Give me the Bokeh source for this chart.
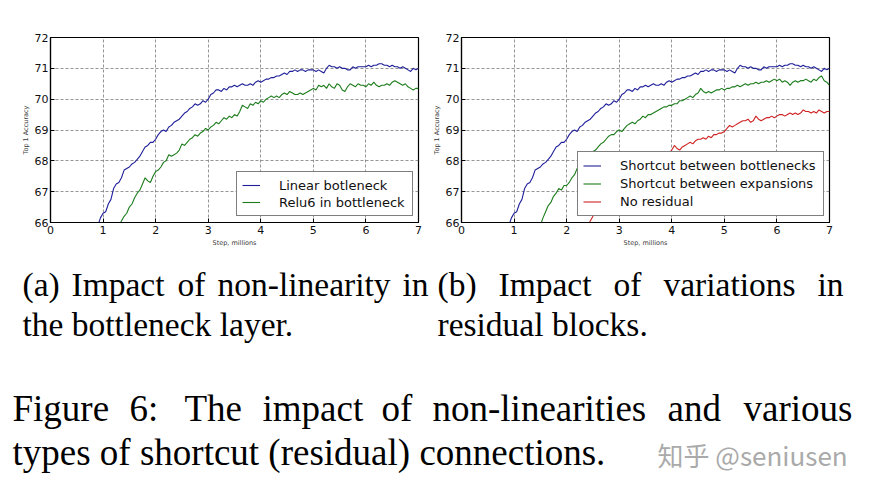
from bokeh.plotting import figure
from bokeh.models import Range1d, FixedTicker, Legend, LegendItem
from bokeh.layouts import column, row
from bokeh.core.properties import value
from bokeh.embed import file_html
from bokeh.resources import INLINE

# ---------------------------------------------------------------- data
x_ticks = [0, 1, 2, 3, 4, 5, 6, 7]
y_ticks = [66, 67, 68, 69, 70, 71, 72]
step = 0.05  # training steps (millions) between logged evaluations

# Linear bottleneck / shortcut between bottlenecks (same run), from 0.90M steps
acc_linear_start = 0.90
acc_linear = [
    65.90, 66.15, 66.30, 66.35, 66.60, 66.75, 67.10, 67.25, 67.30, 67.45,
    67.70, 67.75, 67.80, 67.90, 67.95, 68.05, 68.15, 68.30, 68.45, 68.50,
    68.60, 68.60, 68.70, 68.85, 68.95, 69.00, 68.95, 69.10, 69.15, 69.25,
    69.30, 69.35, 69.45, 69.55, 69.60, 69.70, 69.75, 69.85, 69.80, 69.85,
    69.95, 69.90, 70.00, 70.15, 70.20, 70.30, 70.30, 70.25, 70.35, 70.30,
    70.40, 70.40, 70.45, 70.40, 70.45, 70.50, 70.45, 70.45, 70.50, 70.45,
    70.55, 70.60, 70.55, 70.60, 70.65, 70.65, 70.70, 70.70, 70.75, 70.75,
    70.80, 70.85, 70.80, 70.90, 70.90, 70.95, 70.90, 70.95, 70.95, 70.90,
    70.95, 70.95, 70.95, 70.90, 70.95, 70.90, 70.85, 71.00, 71.10, 71.05,
    71.05, 71.00, 71.05, 71.00, 71.00, 70.95, 70.95, 71.05, 71.00, 71.05,
    71.05, 71.05, 71.05, 71.10, 71.05, 71.10, 71.10, 71.15, 71.15, 71.10,
    71.10, 71.05, 71.10, 71.05, 71.05, 71.00, 71.05, 71.00, 70.95, 70.90,
    71.00, 70.95, 71.00,
]

# Relu6 in bottleneck, from 1.30M steps
acc_relu6_start = 1.30
acc_relu6 = [
    65.90, 66.05, 66.20, 66.30, 66.50, 66.60, 66.80, 66.95, 67.05, 67.25,
    67.45, 67.35, 67.30, 67.50, 67.65, 67.70, 67.80, 67.95, 68.00, 68.20,
    68.15, 68.20, 68.25, 68.35, 68.55, 68.50, 68.60, 68.70, 68.75, 68.85,
    68.80, 68.90, 68.95, 69.05, 69.00, 69.10, 69.15, 69.25, 69.20, 69.30,
    69.40, 69.35, 69.45, 69.40, 69.50, 69.45, 69.60, 69.80, 69.75, 69.70,
    69.85, 69.80, 69.90, 69.85, 69.95, 69.90, 70.00, 70.05, 70.10, 70.05,
    70.10, 70.05, 70.15, 70.20, 70.15, 70.25, 70.20, 70.15, 70.15, 70.20,
    70.15, 70.20, 70.25, 70.30, 70.35, 70.30, 70.45, 70.40, 70.45, 70.35,
    70.50, 70.40, 70.35, 70.50, 70.45, 70.30, 70.25, 70.40, 70.50, 70.45,
    70.40, 70.50, 70.45, 70.45, 70.40, 70.50, 70.45, 70.55, 70.45, 70.40,
    70.45, 70.45, 70.50, 70.45, 70.55, 70.60, 70.55, 70.50, 70.45, 70.50,
    70.40, 70.35, 70.30, 70.35, 70.35,
]

# Shortcut between expansions, from 1.50M steps
acc_expansions_start = 1.50
acc_expansions = [
    65.90, 66.15, 66.35, 66.55, 66.65, 66.85, 66.95, 67.10, 67.05, 67.20,
    67.20, 67.30, 67.45, 67.55, 67.75, 67.85, 68.00, 68.05, 68.15, 68.25,
    68.30, 68.35, 68.45, 68.55, 68.60, 68.70, 68.80, 68.85, 68.85, 68.95,
    69.00, 68.95, 69.05, 69.15, 69.20, 69.25, 69.20, 69.30, 69.35, 69.45,
    69.40, 69.50, 69.50, 69.55, 69.60, 69.65, 69.70, 69.75, 69.75, 69.80,
    69.80, 69.85, 69.85, 69.95, 69.95, 70.00, 70.05, 70.10, 70.05, 70.15,
    70.20, 70.35, 70.25, 70.20, 70.25, 70.20, 70.25, 70.30, 70.30, 70.35,
    70.30, 70.35, 70.35, 70.40, 70.40, 70.45, 70.40, 70.45, 70.50, 70.45,
    70.50, 70.50, 70.55, 70.50, 70.55, 70.55, 70.60, 70.55, 70.60, 70.65,
    70.60, 70.65, 70.55, 70.60, 70.55, 70.45, 70.55, 70.60, 70.55, 70.60,
    70.60, 70.65, 70.60, 70.55, 70.65, 70.60, 70.70, 70.75, 70.60, 70.55,
    70.45,
]

# No residual, from 2.40M steps
acc_nores_start = 2.40
acc_nores = [
    65.90, 66.05, 66.20, 66.35, 66.45, 66.60, 66.70, 66.85, 66.95, 67.05,
    67.15, 67.25, 67.30, 67.40, 67.50, 67.55, 67.65, 67.70, 67.80, 67.85,
    67.90, 67.95, 68.00, 68.05, 68.10, 68.10, 68.15, 68.20, 68.20, 68.25,
    68.30, 68.25, 68.35, 68.50, 68.40, 68.35, 68.45, 68.50, 68.55, 68.60,
    68.55, 68.65, 68.70, 68.70, 68.75, 68.70, 68.80, 68.75, 68.85, 68.85,
    68.90, 68.90, 68.95, 69.05, 69.15, 69.10, 69.15, 69.20, 69.25, 69.30,
    69.30, 69.35, 69.25, 69.30, 69.45, 69.35, 69.30, 69.35, 69.40, 69.40,
    69.45, 69.40, 69.45, 69.50, 69.50, 69.45, 69.50, 69.55, 69.50, 69.55,
    69.50, 69.55, 69.65, 69.60, 69.60, 69.55, 69.60, 69.55, 69.65, 69.60,
    69.55, 69.60, 69.60,
]

labels_a = ["Linear botleneck", "Relu6 in bottleneck"]
labels_b = ["Shortcut between bottlenecks", "Shortcut between expansions", "No residual"]

x_label = "Step, millions"
y_label = "Top 1 Accuracy"

caption_a1 = ["(a)", "Impact", "of", "non-linearity", "in"]
caption_a2 = "the bottleneck layer."
caption_b1 = ["(b)", "Impact", "of", "variations", "in"]
caption_b2 = "residual blocks."
figure_l1 = ["Figure", "6:", "The", "impact", "of", "non-linearities", "and", "various"]
figure_l2 = "types of shortcut (residual) connections."
watermark = "知乎 @seniusen"

# ---------------------------------------------------------------- styling
BLUE = "#1f1f9a"
GREEN = "#1c7d1c"
RED = "#cf2323"
SANS = "DejaVu Sans"
SERIF = "Liberation Serif"


def steps(start, ys):
    return [round(start + step * i, 2) for i in range(len(ys))]


def panel(series, width, legend_x, label_w, row_h, left, right):
    p = figure(width=width, height=250, output_backend="svg", toolbar_location=None,
               x_range=Range1d(0, 7), y_range=Range1d(66, 72),
               min_border_left=left, min_border_right=right,
               min_border_top=37, min_border_bottom=28,
               background_fill_color="white", border_fill_color="white")
    p.outline_line_color = "black"
    p.outline_line_width = 1.2
    for ax, ticks in ((p.xaxis, x_ticks), (p.yaxis, y_ticks)):
        ax.ticker = FixedTicker(ticks=ticks)
        ax.major_tick_in = 4
        ax.major_tick_out = 0
        ax.minor_tick_line_color = None
        ax.major_tick_line_color = "black"
        ax.axis_line_color = "black"
        ax.axis_line_width = 1.2
        ax.major_label_text_font = SANS
        ax.major_label_text_font_size = "11px"
        ax.major_label_text_color = "#111111"
        ax.axis_label_text_font = SANS
        ax.axis_label_text_font_size = "6.5px"
        ax.axis_label_text_font_style = "normal"
        ax.axis_label_text_color = "#3a3a3a"
        ax.axis_label_standoff = 2
    p.xaxis.major_label_standoff = 3
    p.yaxis.major_label_standoff = 2
    p.xaxis.axis_label = x_label
    p.yaxis.axis_label = y_label
    for g, ticks in ((p.xgrid, x_ticks), (p.ygrid, y_ticks)):
        g.ticker = FixedTicker(ticks=ticks)
        g.grid_line_color = "#7a7a7a"
        g.grid_line_dash = "3 2"
        g.grid_line_width = 0.8

    items = []
    for label, start, ys, color in series:
        r = p.line(steps(start, ys), ys, line_color=color, line_width=1.1)
        items.append(LegendItem(label=label, renderers=[r]))
    leg = Legend(items=items, location=(legend_x, 6), margin=0, padding=5,
                 spacing=1, glyph_width=18, glyph_height=row_h,
                 label_height=row_h, label_width=label_w, label_standoff=19,
                 label_text_font=SANS, label_text_font_size="13px",
                 label_text_color="#111111",
                 border_line_color="black", border_line_width=1.2,
                 background_fill_color="white", background_fill_alpha=1.0)
    p.add_layout(leg)
    return p


pa = panel([(labels_a[0], acc_linear_start, acc_linear, BLUE),
            (labels_a[1], acc_relu6_start, acc_relu6, GREEN)],
           width=429, legend_x=186, label_w=128, row_h=16, left=50, right=11)
pb = panel([(labels_b[0], acc_linear_start, acc_linear, BLUE),
            (labels_b[1], acc_expansions_start, acc_expansions, GREEN),
            (labels_b[2], acc_nores_start, acc_nores, RED)],
           width=441, legend_x=116, label_w=198, row_h=17, left=32, right=41)

# ---------------------------------------------------------------- captions
pc = figure(width=870, height=238, output_backend="svg", toolbar_location=None,
            x_range=Range1d(0, 870), y_range=Range1d(488, 250),
            x_axis_location=None, y_axis_location=None,
            min_border=0, outline_line_color=None)
pc.grid.visible = False


def words(p, ws, xs, y, size, last_right=None):
    n = len(ws) - (1 if last_right is not None else 0)
    p.text(xs[:n], [y] * n, text=ws[:n], text_font=value(SERIF),
           text_font_size=size, text_color="black", text_baseline="alphabetic",
           text_align="left")
    if last_right is not None:
        p.text([last_right], [y], text=[ws[-1]], text_font=value(SERIF),
               text_font_size=size, text_color="black",
               text_baseline="alphabetic", text_align="right")


CAP = "33.5px"
FIG = "37px"
words(pc, caption_a1, [22, 71, 177, 217], 284, CAP, last_right=428)
words(pc, [caption_a2], [22], 324, CAP)
words(pc, caption_b1, [437, 498, 613, 663], 284, CAP, last_right=843)
words(pc, [caption_b2], [437], 324, CAP)
words(pc, figure_l1, [12, 129, 184, 262, 381, 432, 667], 408, FIG, last_right=852)
words(pc, [figure_l2], [12], 452, FIG)
pc.text([657], [454], text=[watermark], text_font=value("Noto Sans CJK SC"),
        text_font_size="26px", text_color="#aaaaaa", text_baseline="alphabetic",
        text_align="left")

layout = column(row(pa, pb, spacing=0), pc, spacing=0)
open("out.html", "w").write(file_html(layout, INLINE))
